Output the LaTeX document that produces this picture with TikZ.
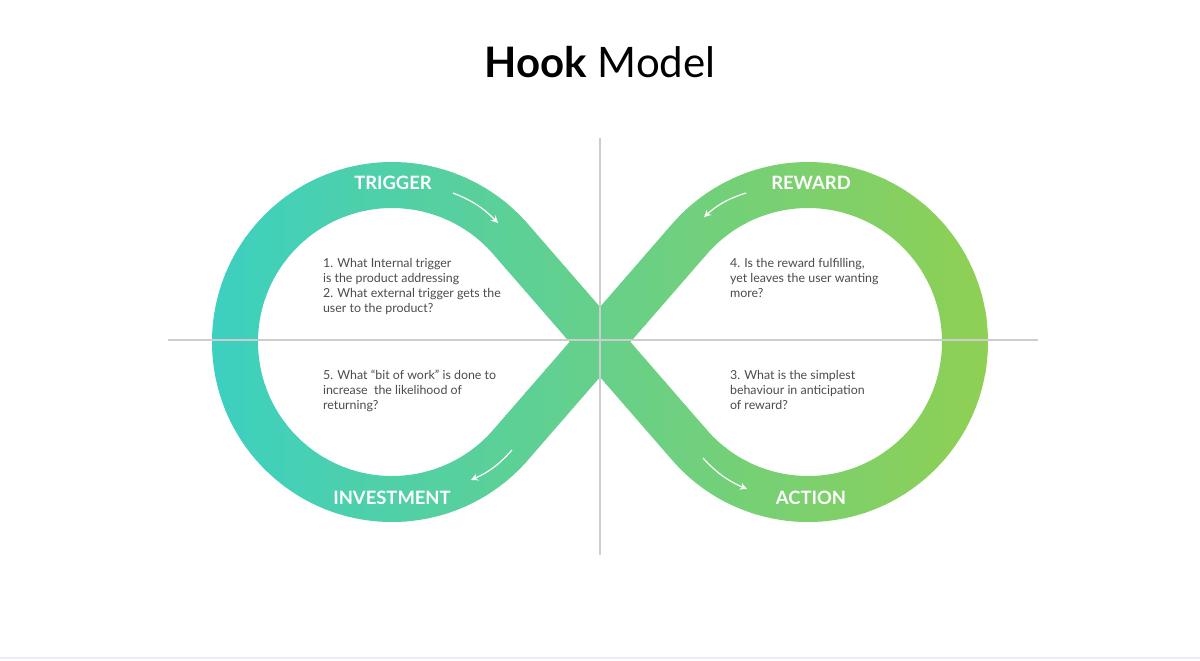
\documentclass[tikz,border=0pt]{standalone}
\usepackage{fontspec}
\setmainfont{Lato}
\definecolor{hookL}{RGB}{61,208,192}
\definecolor{hookR}{RGB}{146,208,80}
\definecolor{axis}{RGB}{205,205,205}
\tikzset{
  stage/.style={text=white, font=\bfseries\fontsize{9.2}{10}\selectfont},
  question/.style={anchor=north west, align=left, text=black!70, font=\fontsize{6.2}{7.5}\selectfont},
  turn/.style={white, line width=0.6pt, -stealth},
}
\begin{document}
\begin{tikzpicture}[x=0.5pt, y=-0.5pt]
    \useasboundingbox (0,0) rectangle (1200,660);
    \fill[white] (0,0) rectangle (1200,660);
    \draw[blue!8, line width=0.6pt] (0,658) -- (1200,658);

    % title
    \node at (600,62) (title) {\fontsize{21}{24}\selectfont\textbf{Hook} Model};

    % infinity band, shaded strip by strip
    \foreach \i in {0,...,39}{
      \pgfmathsetmacro\p{\i*2.5}
      \begin{scope}
        \clip (205+\i*20,100) rectangle (226+\i*20,600);
        \draw[hookR!\p!hookL, line width=23pt]
          (600,342) -- (510.5,445) arc[start angle=41, end angle=319, radius=157]
          -- (600,342) -- (689.5,445) arc[start angle=139, end angle=-139, radius=157]
          -- cycle;
      \end{scope}
    }

    % axes
    \coordinate (vtop) at (600,138);
    \coordinate (vbot) at (600,555);
    \coordinate (hleft) at (168,340);
    \coordinate (hright) at (1038,340);
    \draw[axis, line width=0.7pt] (vtop) -- (vbot);
    \draw[axis, line width=0.7pt] (hleft) -- (hright);

    % stage labels
    \node[stage] at (393,183) (trigger) {TRIGGER};
    \node[stage] at (811,183) (reward) {REWARD};
    \node[stage] at (392,498) (investment) {INVESTMENT};
    \node[stage] at (811,498) (action) {ACTION};

    % small arrows
    \coordinate (t1) at (453,193); \coordinate (t2) at (498,223);
    \coordinate (r1) at (746,193); \coordinate (r2) at (704,217);
    \coordinate (i1) at (512,450); \coordinate (i2) at (471,480);
    \coordinate (a1) at (703,458); \coordinate (a2) at (747,489);
    \draw[turn] (t1) to[bend left=12] (t2);
    \draw[turn] (r1) to[bend right=12] (r2);
    \draw[turn] (i1) to[bend left=12] (i2);
    \draw[turn] (a1) to[bend right=12] (a2);

    % questions
    \node[question] at (316,251) (qtrigger) {1. What Internal trigger\\is the product addressing\\2. What external trigger gets the\\user to the product?};
    \node[question] at (723,251) (qreward) {4. Is the reward fulfilling,\\yet leaves the user wanting\\more?};
    \node[question] at (316,363) (qinvest) {5. What ``bit of work'' is done to\\increase \ the likelihood of\\returning?};
    \node[question] at (723,363) (qaction) {3. What is the simplest\\behaviour in anticipation\\of reward?};
\end{tikzpicture}
\end{document}
